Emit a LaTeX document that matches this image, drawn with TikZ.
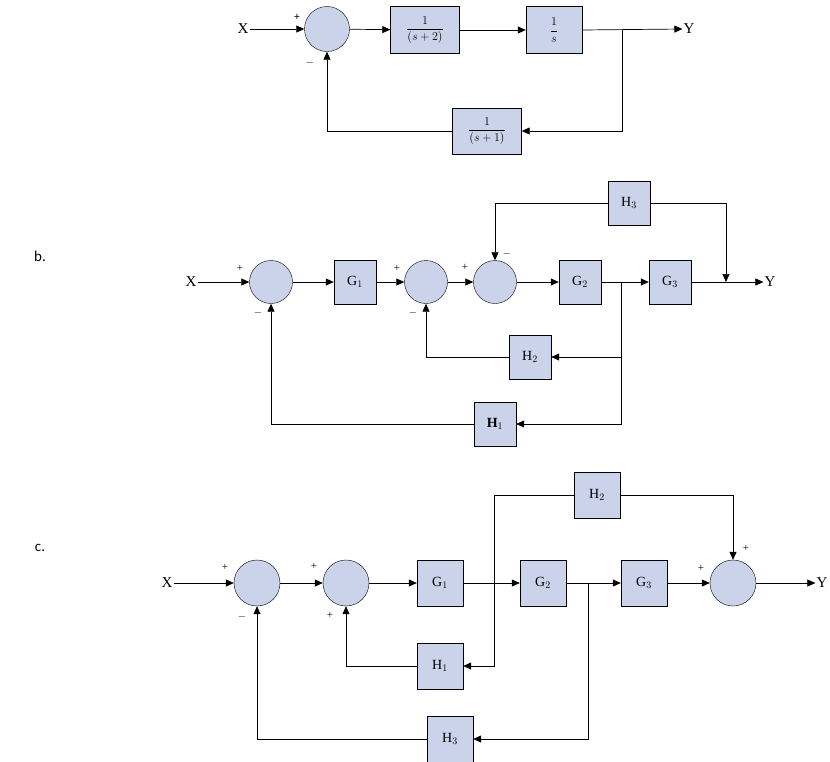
\documentclass[tikz,border=0pt]{standalone}
\usepackage{amsmath}
\usepackage{fontspec}
\setmainfont{Liberation Serif}
\newfontfamily\labfont{Carlito}
\usetikzlibrary{arrows.meta}
\definecolor{bf}{RGB}{203,211,234}
\begin{document}
\begin{tikzpicture}[x=1pt,y=-1pt,
 blk/.style={draw,fill=bf,minimum width=#1,minimum height=44pt,inner sep=0pt,font=\fontsize{14}{16}\selectfont},
 blk/.default=42pt,
 sumj/.style={draw,fill=bf,circle,minimum size=#1,inner sep=0pt},
 sumj/.default=43pt,
 ar/.style={-{Triangle[length=8pt,width=7pt]},line width=0.7pt},
 ln/.style={line width=0.7pt},
 sg/.style={font=\fontsize{11}{12}\selectfont,inner sep=0pt},
 io/.style={font=\fontsize{15}{16}\selectfont,inner sep=1pt},
 lbl/.style={font=\labfont\fontsize{15}{16}\selectfont}]
\useasboundingbox (0,0) rectangle (830,761);
% ---------- a ----------
\node[io] (aX) at (243,29) {X};
\node[sumj=45pt] (aS) at (327,29) {};
\node[blk=69pt,minimum height=47pt,font=\fontsize{12}{14}\selectfont] (aG1) at (425,30) {$\dfrac{1}{(s+2)}$};
\node[blk=56pt,minimum height=47pt,font=\fontsize{12}{14}\selectfont] (aG2) at (554,30) {$\dfrac{1}{s}$};
\node[blk=69pt,minimum height=46pt,font=\fontsize{12}{14}\selectfont] (aH) at (487,131) {$\dfrac{1}{(s+1)}$};
\node[io] (aY) at (689,29) {Y};
\coordinate (aB) at (622,30);
\node[sg] at (297,17) {\textbf{+}};
\node[sg] at (310,63) {$-$};
\draw[ar] (aX) -- (aS);
\draw[ar] (aS) -- (aG1);
\draw[ar] (aG1) -- (aG2);
\draw[ar] (aG2.east) -- (aY.west);
\draw[ar] (aB) |- (aH.east);
\draw[ar] (aH.west) -| (aS.south);
% ---------- b ----------
\node[lbl] (lb) at (40,256) {b.};
\node[io] (bX) at (191,282) {X};
\node[sumj] (b1) at (271,282) {};
\node[blk] (bG1) at (355,282) {G$_1$};
\node[sumj] (b2) at (426,282) {};
\node[sumj] (b3) at (495,282) {};
\node[blk] (bG2) at (580,282) {G$_2$};
\node[blk] (bG3) at (670,282) {G$_3$};
\node[io] (bY) at (770,282) {Y};
\node[blk] (bH3) at (629,203) {H$_3$};
\node[blk] (bH2) at (530,357) {H$_2$};
\node[blk] (bH1) at (495,424) {\textbf{H$_1$}};
\coordinate (bB) at (621,282);
\coordinate (bJ) at (726,282);
\node[sg] at (240,268) {+};
\node[sg] at (258,313) {$-$};
\node[sg] at (397,268) {+};
\node[sg] at (413,313) {$-$};
\node[sg] at (465,267) {+};
\node[sg] at (507,254) {$-$};
\draw[ar] (bX) -- (b1);
\draw[ar] (b1) -- (bG1);
\draw[ar] (bG1) -- (b2);
\draw[ar] (b2) -- (b3);
\draw[ar] (b3) -- (bG2);
\draw[ar] (bG2) -- (bG3);
\draw[ar] (bG3.east) -- (bY.west);
\draw[ar] (bH3.west) -| (b3.north);
\draw[ar] (bH3.east) -| (bJ);
\draw[ar] (bB) |- (bH2.east);
\draw[ar] (bB) |- (bH1.east);
\draw[ar] (bH2.west) -| (b2.south);
\draw[ar] (bH1.west) -| (b1.south);
% ---------- c ----------
\node[lbl] (lc) at (40,548) {c.};
\node[io] (cX) at (167,583) {X};
\node[sumj=46pt] (c1) at (257,583) {};
\node[sumj=46pt] (c2) at (346,583) {};
\node[blk=46pt,minimum height=46pt] (cG1) at (440,583) {G$_1$};
\node[blk=46pt,minimum height=46pt] (cG2) at (543,583) {G$_2$};
\node[blk=46pt,minimum height=46pt] (cG3) at (644,583) {G$_3$};
\node[sumj=46pt] (c3) at (733,583) {};
\node[io] (cY) at (822,583) {Y};
\node[blk=46pt,minimum height=46pt] (cH2) at (597,495) {H$_2$};
\node[blk=46pt,minimum height=46pt] (cH1) at (440,666) {H$_1$};
\node[blk=46pt,minimum height=46pt] (cH3) at (450,739) {H$_3$};
\coordinate (cA) at (494,583);
\coordinate (cB) at (588,583);
\node[sg] at (225,567) {+};
\node[sg] at (242,617) {$-$};
\node[sg] at (314,566) {+};
\node[sg] at (330,615) {+};
\node[sg] at (701,568) {+};
\node[sg] at (746,548) {+};
\draw[ar] (cX) -- (c1);
\draw[ar] (c1) -- (c2);
\draw[ar] (c2) -- (cG1);
\draw[ar] (cG1) -- (cG2);
\draw[ar] (cG2) -- (cG3);
\draw[ar] (cG3) -- (c3);
\draw[ar] (c3.east) -- (cY.west);
\draw[ln] (cA) |- (cH2.west);
\draw[ar] (cH2.east) -| (c3.north);
\draw[ar] (cA) |- (cH1.east);
\draw[ar] (cH1.west) -| (c2.south);
\draw[ar] (cB) |- (cH3.east);
\draw[ar] (cH3.west) -| (c1.south);
\end{tikzpicture}
\end{document}
